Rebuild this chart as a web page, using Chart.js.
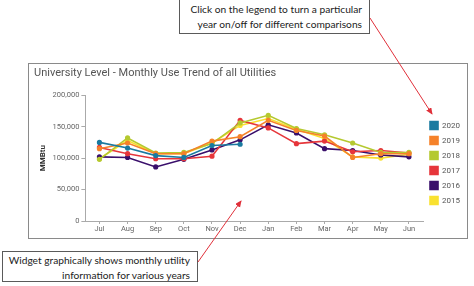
<!DOCTYPE html>
<html><head><meta charset="utf-8">
<script src="https://cdn.jsdelivr.net/npm/chart.js@4.4.1/dist/chart.umd.min.js"></script>
<style>
html,body{margin:0;padding:0;background:#fff;width:474px;height:286px;overflow:hidden;position:relative;font-family:Roboto,sans-serif}
#widget{position:absolute;left:28px;top:63px;width:440px;height:176px;border:1px solid #8a8a8a;box-sizing:border-box}
#cwrap{position:absolute;left:28px;top:63px;width:442px;height:177px}
.callout{position:absolute;border:1.5px solid #5a5a5a;background:#fff;font-family:Lato,"Open Sans",sans-serif;font-size:10.2px;color:#222;text-align:right;line-height:15px;box-sizing:border-box;padding:1px 7px 0 4px;white-space:nowrap}
#c1{left:179px;top:-2px;width:191px;height:36px;padding-top:3px}
#c2{left:2px;top:251px;width:196px;height:31px;padding-top:1px}
svg{position:absolute;left:0;top:0}
</style></head>
<body>
<div id="widget"></div>
<div id="cwrap"><canvas id="chart"></canvas></div>
<div class="callout" id="c1">Click on the legend to turn a particular<br>year on/off for different comparisons</div>
<div class="callout" id="c2">Widget graphically shows monthly utility<br>information for various years</div>
<svg width="474" height="286">
<defs><marker id="ah" markerWidth="8" markerHeight="8" refX="6" refY="3" orient="auto" markerUnits="userSpaceOnUse"><path d="M0,0 L7,3 L0,6 z" fill="#e0303a"/></marker></defs>
<line x1="370" y1="18" x2="432" y2="114" stroke="#e0303a" stroke-width="1" marker-end="url(#ah)"/>
<line x1="198" y1="262" x2="241" y2="201" stroke="#e0303a" stroke-width="1" marker-end="url(#ah)"/>
</svg>
<script>
const months = ["Jul","Aug","Sep","Oct","Nov","Dec","Jan","Feb","Mar","Apr","May","Jun"];
const years = ["2020","2019","2018","2017","2016","2015"];
const y2020 = [125000,116000,104000,101000,120000,122000,null,null,null,null,null,null];
const y2019 = [115000,124000,107000,107000,127000,134000,160000,144000,135000,101000,107000,107000];
const y2018 = [98000,132000,108000,109000,123000,156000,168000,147000,137000,124000,109000,109000];
const y2017 = [117000,107000,99000,99000,103000,160000,148000,123000,127000,110000,112000,108000];
const y2016 = [102000,101000,86000,98000,113000,129000,153000,140000,115000,112000,105000,102000];
const y2015 = [99000,128000,107000,107000,124000,152000,163000,146000,131000,102000,100000,106000];
const yTicks = [0,50000,100000,150000,200000];
const colors = ["#1a7aa0","#f5822a","#b5c930","#e6363b","#3a0f6b","#f9e130"];
const series = [y2020,y2019,y2018,y2017,y2016,y2015];

const datasets = series.map((d,i)=>({
  label: years[i], data: d, borderColor: colors[i], backgroundColor: colors[i],
  pointBackgroundColor: colors[i], pointBorderColor: colors[i],
  borderWidth: 1.6, pointRadius: 1.8, tension: 0, spanGaps: false
}));

const legendShift = { id: 'legendShift', afterLayout(chart) {
  const l = chart.legend; if (!l) return;
  l.top += 14; l.bottom += 14;
}};

new Chart(document.getElementById('chart'), {
  type: 'line',
  data: { labels: months, datasets },
  plugins: [legendShift],
  options: {
    responsive: true, maintainAspectRatio: false, animation: false,
    layout: { padding: { left: 6, top: 0, right: 0, bottom: 5 } },
    plugins: {
      title: { display: true, text: "University Level - Monthly Use Trend of all Utilities", align: 'start',
        color: '#555', font: { family: 'Roboto', size: 11, weight: 'normal' }, padding: { top: 4, bottom: 15 } },
      legend: { position: 'right', align: 'center',
        labels: { boxWidth: 8, boxHeight: 8, padding: 7, color: '#555', font: { family: 'Roboto', size: 8 } } },
      tooltip: { enabled: false }
    },
    scales: {
      x: { offset: true,
        grid: { display: true, drawOnChartArea: false, drawTicks: true, tickLength: 3, offset: false, color: '#aaa' },
        border: { display: true, color: '#aaa' },
        ticks: { color: '#666', font: { family: 'Roboto', size: 7.5 }, padding: 1, maxRotation: 0, autoSkip: false } },
      y: { min: 0, max: 200000,
        afterBuildTicks: (ax) => { ax.ticks = yTicks.map(v => ({ value: v })); },
        grid: { display: true, drawOnChartArea: false, drawTicks: true, tickLength: 4, color: '#aaa' },
        border: { display: true, color: '#aaa' },
        title: { display: true, text: 'MMBtu', color: '#333', font: { family: 'Roboto', size: 8, weight: 'bold' }, padding: { top: 4, bottom: 3 } },
        ticks: { color: '#666', font: { family: 'Roboto', size: 7.5 }, padding: 2,
          callback: (v) => v.toLocaleString('en-US') } }
    }
  }
});
</script>
</body></html>
